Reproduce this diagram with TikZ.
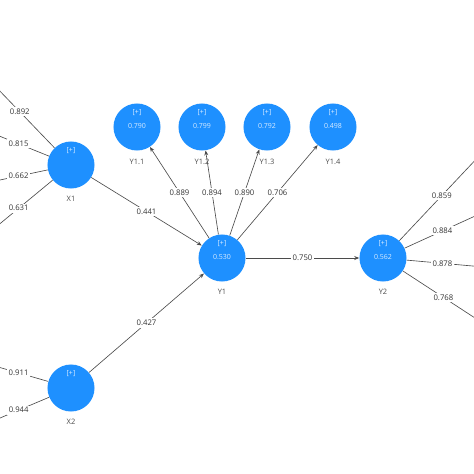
\documentclass[tikz,border=0pt]{standalone}
\usepackage{fontspec}
\setmainfont{Open Sans}
\usepackage{tikz}
\usetikzlibrary{arrows.meta}
\definecolor{lvblue}{RGB}{30,144,255}
\definecolor{lvtext}{RGB}{215,235,255}
\definecolor{edgegray}{RGB}{75,75,75}

\begin{document}
\begin{tikzpicture}[x=0.025cm,y=-0.025cm,
  lv/.style={circle,fill=lvblue,minimum size=1.175cm,inner sep=0pt},
  intxt/.style={text=lvtext,inner sep=0pt,font=\fontsize{5}{6}\selectfont},
  lvname/.style={text=black!70,inner sep=0pt,font=\fontsize{5.3}{6}\selectfont},
  wt/.style={fill=white,inner xsep=1pt,inner ysep=1.2pt,text=black!80,font=\fontsize{5.5}{6}\selectfont},
  ld/.style={draw=edgegray,line width=0.45pt},
  path/.style={ld,-{Stealth[length=3.5pt,width=2.8pt]}}]
\useasboundingbox (0,0) rectangle (474,474);
\clip (0,0) rectangle (474,474);
\fill[white] (0,0) rectangle (474,474);

% latent variables
\node[lv] (X1) at (71,165) {};
\node[lv] (X2) at (71,388) {};
\node[lv] (Y1) at (222,258) {};
\node[lv] (Y2) at (383,258) {};
\node[lv] (Y11) at (137,127) {};
\node[lv] (Y12) at (202,127) {};
\node[lv] (Y13) at (267,127) {};
\node[lv] (Y14) at (333,127) {};

% texts in and under the circles
\node[intxt] at ([yshift=0.37cm]X1.center) {[+]};
\node[intxt] at ([yshift=0.37cm]X2.center) {[+]};
\node[intxt] at ([yshift=0.37cm]Y1.center) {[+]};
\node[intxt] at ([yshift=0.02cm]Y1.center) {0.530};
\node[intxt] at ([yshift=0.37cm]Y2.center) {[+]};
\node[intxt] at ([yshift=0.02cm]Y2.center) {0.562};
\node[intxt] at ([yshift=0.37cm]Y11.center) {[+]};
\node[intxt] at ([yshift=0.02cm]Y11.center) {0.790};
\node[intxt] at ([yshift=0.37cm]Y12.center) {[+]};
\node[intxt] at ([yshift=0.02cm]Y12.center) {0.799};
\node[intxt] at ([yshift=0.37cm]Y13.center) {[+]};
\node[intxt] at ([yshift=0.02cm]Y13.center) {0.792};
\node[intxt] at ([yshift=0.37cm]Y14.center) {[+]};
\node[intxt] at ([yshift=0.02cm]Y14.center) {0.498};
\node[lvname] at ([yshift=-0.85cm]X1.center) {X1};
\node[lvname] at ([yshift=-0.85cm]X2.center) {X2};
\node[lvname] at ([yshift=-0.85cm]Y1.center) {Y1};
\node[lvname] at ([yshift=-0.85cm]Y2.center) {Y2};
\node[lvname] at ([yshift=-0.87cm]Y11.center) {Y1.1};
\node[lvname] at ([yshift=-0.87cm]Y12.center) {Y1.2};
\node[lvname] at ([yshift=-0.87cm]Y13.center) {Y1.3};
\node[lvname] at ([yshift=-0.87cm]Y14.center) {Y1.4};

% indicators outside the frame
\coordinate (x1a) at (-15,75.6);
\coordinate (x1b) at (-11.7,131.6);
\coordinate (x1c) at (-10.5,182.2);
\coordinate (x1d) at (-15.3,236.3);
\coordinate (x2a) at (-10.9,364.4);
\coordinate (x2b) at (-11.8,423);
\coordinate (y2a) at (484.3,150.5);
\coordinate (y2b) at (480.2,213.7);
\coordinate (y2c) at (478.2,266.5);
\coordinate (y2d) at (483.9,323.8);

% outer loadings
\draw[ld] (x1a) -- node[wt]{0.892} (X1);
\draw[ld] (x1b) -- node[wt]{0.815} (X1);
\draw[ld] (x1c) -- node[wt]{0.662} (X1);
\draw[ld] (x1d) -- node[wt]{0.631} (X1);
\draw[ld] (x2a) -- node[wt]{0.911} (X2);
\draw[ld] (x2b) -- node[wt]{0.944} (X2);
\draw[ld] (y2a) -- node[wt]{0.859} (Y2);
\draw[ld] (y2b) -- node[wt]{0.884} (Y2);
\draw[ld] (y2c) -- node[wt]{0.878} (Y2);
\draw[ld] (y2d) -- node[wt]{0.768} (Y2);
\draw[path] (Y1) -- node[wt]{0.889} (Y11);
\draw[path] (Y1) -- node[wt]{0.894} (Y12);
\draw[path] (Y1) -- node[wt]{0.890} (Y13);
\draw[path] (Y1) -- node[wt]{0.706} (Y14);

% inner paths
\draw[path] (X1) -- node[wt]{0.441} (Y1);
\draw[path] (X2) -- node[wt]{0.427} (Y1);
\draw[path] (Y1) -- node[wt]{0.750} (Y2);
\end{tikzpicture}
\end{document}
